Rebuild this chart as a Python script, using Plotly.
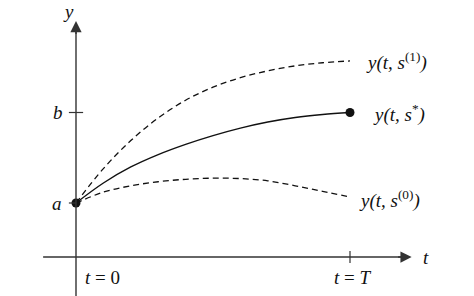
import plotly.graph_objects as go

# ---- data (t as a fraction of T, y in units where a=1, b=2) ----
t_vals = [0.0, 0.1, 0.2, 0.3, 0.4, 0.5, 0.6, 0.7, 0.8, 0.9, 1.0]
y_upper = [1.000, 1.380, 1.690, 1.940, 2.135, 2.280, 2.385, 2.460, 2.515, 2.550, 2.570]
y_star = [1.000, 1.221, 1.398, 1.535, 1.648, 1.745, 1.828, 1.895, 1.945, 1.978, 2.000]
y_lower = [1.000, 1.120, 1.190, 1.235, 1.262, 1.274, 1.270, 1.245, 1.190, 1.128, 1.066]
a_val = 1.0
b_val = 2.0
T_val = 1.0
x_axis_level = 0.403
labels_right = ["y(t, s<sup>(1)</sup>)", "y(t, s<sup>*</sup>)", "y(t, s<sup>(0)</sup>)"]

FONT = "Liberation Serif, Times New Roman, DejaVu Serif, serif"
INK = "#111111"
AXC = "#333333"

fig = go.Figure()

dash = "6px,4px"
fig.add_trace(go.Scatter(x=t_vals, y=y_upper, mode="lines",
                         line=dict(color=INK, width=1.3, dash=dash, shape="spline")))
fig.add_trace(go.Scatter(x=t_vals, y=y_lower, mode="lines",
                         line=dict(color=INK, width=1.3, dash=dash, shape="spline")))
fig.add_trace(go.Scatter(x=t_vals, y=y_star, mode="lines",
                         line=dict(color=INK, width=1.4, shape="spline")))
fig.add_trace(go.Scatter(x=[t_vals[0], t_vals[-1]], y=[y_star[0], y_star[-1]], mode="markers",
                         marker=dict(color=INK, size=9)))

# axes lines
shapes = [
    dict(type="line", xref="x", yref="y", x0=-0.12, x1=1.21, y0=x_axis_level, y1=x_axis_level,
         line=dict(color=AXC, width=1.4)),
    dict(type="line", xref="x", yref="y", x0=0, x1=0, y0=-0.1, y1=2.9,
         line=dict(color=AXC, width=1.4)),
    # tick at b
    dict(type="line", xref="x", yref="y", x0=-0.026, x1=0.026, y0=b_val, y1=b_val,
         line=dict(color=AXC, width=1.2)),
    # tick at a
    dict(type="line", xref="x", yref="y", x0=-0.026, x1=0, y0=a_val, y1=a_val,
         line=dict(color=AXC, width=1.2)),
    # tick at T
    dict(type="line", xref="x", yref="y", x0=T_val, x1=T_val, y0=x_axis_level - 0.066,
         y1=x_axis_level + 0.066, line=dict(color=AXC, width=1.2)),
]


def txt(x, y, s, xanchor="center", size=19):
    return dict(x=x, y=y, xref="x", yref="y", text=s, showarrow=False,
                xanchor=xanchor, yanchor="middle",
                font=dict(family=FONT, size=size, color=INK))


def math(s):
    return "<i>" + s.replace("<sup>", "</i><sup>").replace("</sup>", "</sup><i>") + "</i>"


annotations = [
    # arrow heads
    dict(x=1.225, y=x_axis_level, ax=1.17, ay=x_axis_level, axref="x", ayref="y",
         xref="x", yref="y", showarrow=True, arrowhead=2, arrowsize=1.6, arrowwidth=1.4,
         arrowcolor=AXC, text=""),
    dict(x=0, y=3.01, ax=0, ay=2.85, axref="x", ayref="y",
         xref="x", yref="y", showarrow=True, arrowhead=2, arrowsize=1.6, arrowwidth=1.4,
         arrowcolor=AXC, text=""),
    txt(-0.029, 3.12, "<i>y</i>"),
    txt(1.277, x_axis_level, "<i>t</i>"),
    txt(-0.066, b_val, "<i>b</i>"),
    txt(-0.07, a_val, "<i>a</i>"),
    txt(0.024, x_axis_level - 0.225, "<i>t</i> = 0", xanchor="left"),
    txt(T_val + 0.01, x_axis_level - 0.225, "<i>t</i> = <i>T</i>"),
    txt(T_val + 0.05, y_upper[-1] - 0.01, math(labels_right[0]), xanchor="left"),
    txt(T_val + 0.075, y_star[-1] - 0.01, math(labels_right[1]), xanchor="left"),
    txt(T_val + 0.025, y_lower[-1] - 0.03, math(labels_right[2]), xanchor="left"),
]

fig.update_layout(
    width=474, height=296, margin=dict(l=0, r=0, t=0, b=0),
    paper_bgcolor="white", plot_bgcolor="white", showlegend=False,
    shapes=shapes, annotations=annotations,
    xaxis=dict(range=[-76 / 274, 398 / 274], visible=False, fixedrange=True),
    yaxis=dict(range=[1 + (203 - 296) / 90.5, 1 + 203 / 90.5], visible=False, fixedrange=True),
)

fig.write_html("out.html")
